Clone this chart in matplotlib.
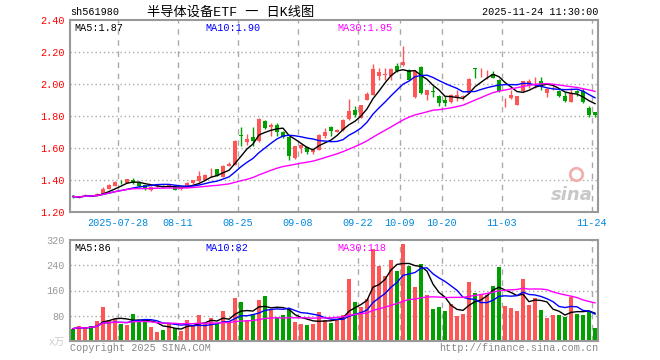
import numpy as np
import pandas as pd
import matplotlib
matplotlib.use('Agg')
import matplotlib.pyplot as plt

# daily K-line data, 2025-07-16 .. 2025-11-24 (88 trading days)
opens = [1.299, 1.290, 1.305, 1.306, 1.306, 1.315, 1.346, 1.362, 1.393, 1.382,
         1.402, 1.381, 1.367, 1.336, 1.362, 1.362, 1.362, 1.354, 1.344, 1.350,
         1.380, 1.392, 1.402, 1.448, 1.466, 1.420, 1.490, 1.496, 1.682, 1.640,
         1.666, 1.645, 1.771, 1.730, 1.742, 1.700, 1.667, 1.537, 1.600, 1.606,
         1.573, 1.590, 1.677, 1.731, 1.700, 1.715, 1.783, 1.839, 1.790, 1.902,
         1.933, 2.048, 2.057, 2.048, 2.110, 2.117, 2.090, 1.919, 2.104, 1.933,
         1.952, 1.927, 1.902, 1.885, 1.912, 1.918, 1.944, 2.096, 2.067, 2.067,
         2.062, 2.027, 1.910, 1.912, 1.871, 1.954, 1.996, 2.004, 2.020, 1.944,
         1.972, 1.954, 1.923, 1.887, 1.954, 1.958, 1.850, 1.823]
highs = [1.305, 1.293, 1.313, 1.308, 1.317, 1.358, 1.372, 1.392, 1.403, 1.408,
         1.413, 1.394, 1.370, 1.362, 1.370, 1.366, 1.370, 1.358, 1.350, 1.385,
         1.403, 1.458, 1.436, 1.478, 1.468, 1.495, 1.515, 1.650, 1.730, 1.685,
         1.730, 1.790, 1.775, 1.755, 1.755, 1.705, 1.668, 1.612, 1.622, 1.610,
         1.592, 1.685, 1.725, 1.740, 1.718, 1.780, 1.906, 1.860, 1.870, 1.948,
         2.127, 2.100, 2.100, 2.098, 2.131, 2.235, 2.095, 2.085, 2.110, 1.965,
         1.985, 1.930, 1.922, 1.935, 1.965, 1.930, 2.035, 2.100, 2.100, 2.090,
         2.080, 2.030, 1.915, 1.965, 1.925, 2.020, 2.031, 2.044, 2.044, 1.972,
         1.985, 1.960, 1.950, 1.975, 1.965, 1.975, 1.865, 1.826]
lows = [1.290, 1.286, 1.300, 1.302, 1.303, 1.312, 1.342, 1.360, 1.377, 1.380,
        1.378, 1.356, 1.338, 1.334, 1.358, 1.355, 1.359, 1.335, 1.338, 1.347,
        1.378, 1.390, 1.400, 1.420, 1.425, 1.418, 1.485, 1.494, 1.615, 1.620,
        1.610, 1.640, 1.718, 1.673, 1.672, 1.660, 1.523, 1.533, 1.570, 1.560,
        1.565, 1.588, 1.662, 1.673, 1.698, 1.705, 1.777, 1.793, 1.788, 1.900,
        1.930, 2.023, 2.027, 2.027, 2.078, 2.110, 2.023, 1.915, 1.940, 1.898,
        1.920, 1.860, 1.860, 1.880, 1.893, 1.898, 1.942, 2.037, 2.043, 2.031,
        2.037, 1.950, 1.854, 1.905, 1.866, 1.950, 1.975, 1.975, 1.965, 1.918,
        1.960, 1.920, 1.885, 1.885, 1.925, 1.880, 1.793, 1.794]
closes = [1.297, 1.291, 1.308, 1.304, 1.314, 1.346, 1.367, 1.390, 1.391, 1.405,
          1.383, 1.361, 1.346, 1.358, 1.366, 1.359, 1.366, 1.340, 1.347, 1.380,
          1.400, 1.423, 1.433, 1.452, 1.428, 1.490, 1.500, 1.646, 1.678, 1.656,
          1.645, 1.783, 1.725, 1.745, 1.700, 1.668, 1.552, 1.610, 1.617, 1.573,
          1.590, 1.683, 1.698, 1.704, 1.715, 1.777, 1.833, 1.808, 1.867, 1.937,
          2.096, 2.073, 2.060, 2.094, 2.083, 2.137, 2.027, 2.079, 1.944, 1.960,
          1.950, 1.881, 1.881, 1.933, 1.933, 1.925, 2.031, 2.093, 2.070, 2.070,
          2.040, 1.954, 1.913, 1.933, 1.923, 2.017, 2.017, 2.008, 1.985, 1.969,
          1.977, 1.923, 1.896, 1.944, 1.944, 1.890, 1.804, 1.804]
volumes = [39, 46, 39, 49, 62, 107, 65, 70, 55, 52,
           87, 68, 65, 44, 27, 34, 55, 42, 31, 68,
           49, 81, 58, 72, 57, 94, 64, 136, 122, 66,
           87, 130, 143, 100, 75, 82, 100, 61, 55, 50,
           53, 93, 66, 58, 68, 82, 197, 122, 109, 133,
           292, 237, 205, 258, 221, 306, 239, 170, 245, 146,
           101, 108, 95, 117, 80, 85, 188, 153, 145, 145,
           175, 233, 111, 105, 96, 197, 114, 137, 98, 73,
           82, 82, 76, 140, 85, 82, 93, 41]

tick_dates = ['2025-07-28', '2025-08-11', '2025-08-25', '2025-09-08', '2025-09-22',
              '2025-10-09', '2025-10-20', '2025-11-03', '2025-11-24']
tick_labels = ['2025-07-28', '08-11', '08-25', '09-08', '09-22',
               '10-09', '10-20', '11-03', '11-24']
price_ticks = [1.20, 1.40, 1.60, 1.80, 2.00, 2.20, 2.40]
vol_ticks = [80, 160, 240, 320]

ma_price_text = ['MA5:1.87', 'MA10:1.90', 'MA30:1.95']
ma_vol_text = ['MA5:86', 'MA10:82', 'MA30:118']

RED = '#ff5555'
GREEN = '#00a000'
GRID = '#aaaaaa'
FRAME = '#999999'

plt.rcParams['font.family'] = ['Liberation Mono', 'Noto Sans CJK SC', 'DejaVu Sans']

holidays = pd.to_datetime(['2025-10-01', '2025-10-02', '2025-10-03',
                           '2025-10-06', '2025-10-07', '2025-10-08'])
dates = pd.bdate_range('2025-07-16', '2025-11-24')
dates = dates[~dates.isin(holidays)]
date_str = [d.strftime('%Y-%m-%d') for d in dates]

o = np.array(opens)
h = np.array(highs)
l = np.array(lows)
c = np.array(closes)
v = np.array(volumes)
x = np.arange(len(c))
colors = [RED if cc >= oo else GREEN for oo, cc in zip(o, c)]

cs = pd.Series(c)
vs = pd.Series(v)

W, H = 660, 360
fig = plt.figure(figsize=(6.6, 3.6), dpi=100)
ax = fig.add_axes([70 / W, 1 - 212 / H, 528 / W, 192 / H])
axv = fig.add_axes([70 / W, 1 - 341 / H, 528 / W, 101 / H])

tick_pos = [date_str.index(d) - 0.5 for d in tick_dates]

for a in (ax, axv):
    a.set_xlim(-0.5, len(c) - 0.5)
    for s in a.spines.values():
        s.set_color(FRAME)
        s.set_linewidth(1.5)
    for tp in tick_pos:
        a.axvline(tp, color=GRID, lw=1, dashes=(4, 4), zorder=0)

# price panel
ax.set_ylim(1.20, 2.40)
for yv in price_ticks[1:-1]:
    ax.axhline(yv, color=GRID, lw=1, dashes=(1, 2), zorder=0)
ax.vlines(x, l, h, colors=colors, lw=1, zorder=2)
body_h = np.maximum(np.abs(c - o), 0.004)
ax.bar(x, body_h, bottom=np.minimum(o, c), width=0.75, color=colors, zorder=3)
ax.plot(x, cs.rolling(5, min_periods=1).mean(), color='black', lw=1, zorder=4)
ax.plot(x, cs.rolling(10, min_periods=1).mean(), color='blue', lw=1, zorder=4)
ax.plot(x, cs.rolling(30, min_periods=1).mean(), color='magenta', lw=1, zorder=4)

ax.set_yticks(price_ticks)
ax.set_yticklabels(['%.2f' % t for t in price_ticks])
ax.tick_params(axis='y', length=0, pad=4, labelcolor='red', labelsize=7.3)
ax.set_xticks(tick_pos)
ax.set_xticklabels(tick_labels)
ax.tick_params(axis='x', length=0, pad=4, labelcolor='#0088dd', labelsize=7.3)

ax.text(0.009, 0.985, ma_price_text[0], transform=ax.transAxes, color='black',
        fontsize=7.3, va='top')
ax.text(0.257, 0.985, ma_price_text[1], transform=ax.transAxes, color='blue',
        fontsize=7.3, va='top')
ax.text(0.506, 0.985, ma_price_text[2], transform=ax.transAxes, color='magenta',
        fontsize=7.3, va='top')

# sina watermark
ax.text(0.95, 0.09, 'sina', transform=ax.transAxes, color='#c8c8c8',
        fontsize=13, fontweight='bold', fontstyle='italic', ha='center',
        va='center', family='DejaVu Sans', zorder=1)
ax.plot([0.958], [0.2], 'o', transform=ax.transAxes, ms=9, mfc='none',
        mec='#f0b0b0', mew=2, zorder=1)

# volume panel
axv.set_ylim(0, 320)
for yv in vol_ticks[:-1]:
    axv.axhline(yv, color=GRID, lw=1, dashes=(1, 2), zorder=0)
axv.bar(x, v, width=0.8, color=colors, zorder=2)
axv.plot(x, vs.rolling(5, min_periods=1).mean(), color='black', lw=1, zorder=3)
axv.plot(x, vs.rolling(10, min_periods=1).mean(), color='blue', lw=1, zorder=3)
axv.plot(x, vs.rolling(30, min_periods=1).mean(), color='magenta', lw=1, zorder=3)
axv.set_yticks([0] + vol_ticks)
axv.set_yticklabels(['x万'] + [str(t) for t in vol_ticks])
axv.tick_params(axis='y', length=0, pad=4, labelcolor='#999999', labelsize=7.3)
axv.get_yticklabels()[0].set_color('#cccccc')
axv.set_xticks([])

axv.text(0.009, 0.97, ma_vol_text[0], transform=axv.transAxes, color='black',
         fontsize=7.3, va='top')
axv.text(0.257, 0.97, ma_vol_text[1], transform=axv.transAxes, color='blue',
         fontsize=7.3, va='top')
axv.text(0.506, 0.97, ma_vol_text[2], transform=axv.transAxes, color='magenta',
         fontsize=7.3, va='top')

# header and footer
fig.text(70 / W, 1 - 12 / H, 'sh561980', fontsize=7.3, va='center', color='black')
fig.text(231 / W, 1 - 12 / H, '半导体设备ETF 一 日K线图', fontsize=9.5,
         ha='center', va='center', color='black')
fig.text(598 / W, 1 - 12 / H, '2025-11-24 11:30:00', fontsize=7.3,
         ha='right', va='center', color='black')
fig.text(70 / W, 1 - 348 / H, 'Copyright 2025 SINA.COM', fontsize=7.3,
         va='center', color='#888888')
fig.text(598 / W, 1 - 348 / H, 'http://finance.sina.com.cn', fontsize=7.3,
         ha='right', va='center', color='#888888')

fig.savefig('out.png', dpi=100)
